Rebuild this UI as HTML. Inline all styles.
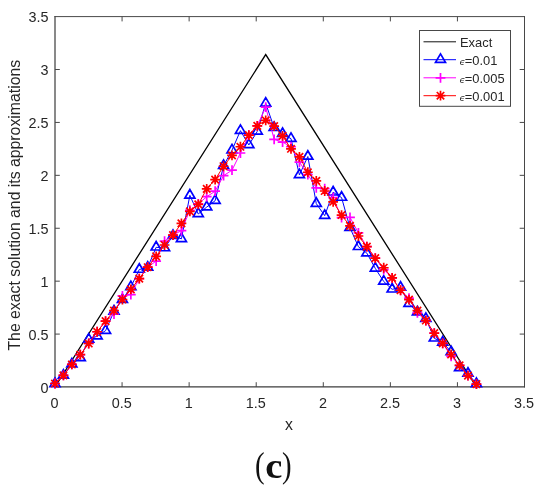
<!DOCTYPE html><html><head><meta charset="utf-8"><title>figure</title>
<style>html,body{margin:0;padding:0;background:#fff}body{width:550px;height:495px;overflow:hidden}svg{display:block}text{font-family:"Liberation Sans",Arial,Helvetica,sans-serif;fill:#262626}</style></head><body>
<svg width="550" height="495" viewBox="0 0 550 495">
<rect width="550" height="495" fill="#fff"/>
<path d="M55.0,16.10V387.40" stroke="#4a4a4a" stroke-width="1.3" fill="none"/>
<path d="M54.5,16.60H525.0" stroke="#484848" stroke-width="1" fill="none"/>
<path d="M524.5,16.10V387.40" stroke="#484848" stroke-width="1" fill="none"/>
<path d="M54.5,386.85H525.0" stroke="#3c3c3c" stroke-width="1.1" fill="none"/>
<path d="M122.07,387.0v-4.8M122.07,16.60v4.8M55.0,334.09h4.8M524.5,334.09h-4.8M189.14,387.0v-4.8M189.14,16.60v4.8M55.0,281.17h4.8M524.5,281.17h-4.8M256.21,387.0v-4.8M256.21,16.60v4.8M55.0,228.26h4.8M524.5,228.26h-4.8M323.29,387.0v-4.8M323.29,16.60v4.8M55.0,175.34h4.8M524.5,175.34h-4.8M390.36,387.0v-4.8M390.36,16.60v4.8M55.0,122.43h4.8M524.5,122.43h-4.8M457.43,387.0v-4.8M457.43,16.60v4.8M55.0,69.51h4.8M524.5,69.51h-4.8" stroke="#484848" stroke-width="1" fill="none"/>
<text x="54.60" y="407.8" font-size="14.4" text-anchor="middle">0</text>
<text x="48.4" y="392.80" font-size="14.4" text-anchor="end">0</text>
<text x="121.67" y="407.8" font-size="14.4" text-anchor="middle">0.5</text>
<text x="48.4" y="339.89" font-size="14.4" text-anchor="end">0.5</text>
<text x="188.74" y="407.8" font-size="14.4" text-anchor="middle">1</text>
<text x="48.4" y="286.97" font-size="14.4" text-anchor="end">1</text>
<text x="255.81" y="407.8" font-size="14.4" text-anchor="middle">1.5</text>
<text x="48.4" y="234.06" font-size="14.4" text-anchor="end">1.5</text>
<text x="322.89" y="407.8" font-size="14.4" text-anchor="middle">2</text>
<text x="48.4" y="181.14" font-size="14.4" text-anchor="end">2</text>
<text x="389.96" y="407.8" font-size="14.4" text-anchor="middle">2.5</text>
<text x="48.4" y="128.23" font-size="14.4" text-anchor="end">2.5</text>
<text x="457.03" y="407.8" font-size="14.4" text-anchor="middle">3</text>
<text x="48.4" y="75.31" font-size="14.4" text-anchor="end">3</text>
<text x="524.10" y="407.8" font-size="14.4" text-anchor="middle">3.5</text>
<text x="48.4" y="22.40" font-size="14.4" text-anchor="end">3.5</text>
<text x="288.9" y="429.9" font-size="15.8" text-anchor="middle">x</text>
<text transform="translate(19.6,205.2) rotate(-90)" font-size="15.8" text-anchor="middle">The exact solution and its approximations</text>
<polyline points="55.00,387.00 265.71,54.53 476.42,387.00" fill="none" stroke="#000" stroke-width="1.3"/>
<polyline points="55.00,383.83 63.43,375.36 71.86,364.25 80.29,358.00 88.71,339.38 97.14,336.20 105.57,330.70 114.00,311.33 122.43,299.69 130.86,286.99 139.28,269.53 147.71,267.41 156.14,247.31 164.57,248.05 173.00,235.67 181.43,238.84 189.86,195.34 198.28,213.97 206.71,207.09 215.14,200.74 223.57,165.82 232.00,150.16 240.43,130.68 248.85,144.97 257.28,131.42 265.71,103.38 274.14,127.72 282.57,133.75 291.00,138.73 299.42,174.92 307.85,156.51 316.28,203.60 324.71,215.66 333.14,192.28 341.57,197.57 350.00,227.73 358.42,246.78 366.85,253.13 375.28,268.37 383.71,281.49 392.14,289.32 400.57,287.52 408.99,303.71 417.42,312.18 425.85,318.63 434.28,338.32 442.71,342.34 451.14,351.86 459.57,367.95 467.99,373.56 476.42,383.83" fill="none" stroke="#0000ff" stroke-width="1"/>
<path d="M50.00,386.53L60.00,386.53L55.00,378.03ZM58.43,378.06L68.43,378.06L63.43,369.56ZM66.86,366.95L76.86,366.95L71.86,358.45ZM75.29,360.70L85.29,360.70L80.29,352.20ZM83.71,342.08L93.71,342.08L88.71,333.58ZM92.14,338.90L102.14,338.90L97.14,330.40ZM100.57,333.40L110.57,333.40L105.57,324.90ZM109.00,314.03L119.00,314.03L114.00,305.53ZM117.43,302.39L127.43,302.39L122.43,293.89ZM125.86,289.69L135.86,289.69L130.86,281.19ZM134.28,272.23L144.28,272.23L139.28,263.73ZM142.71,270.11L152.71,270.11L147.71,261.61ZM151.14,250.01L161.14,250.01L156.14,241.51ZM159.57,250.75L169.57,250.75L164.57,242.25ZM168.00,238.37L178.00,238.37L173.00,229.87ZM176.43,241.54L186.43,241.54L181.43,233.04ZM184.86,198.04L194.86,198.04L189.86,189.54ZM193.28,216.67L203.28,216.67L198.28,208.17ZM201.71,209.79L211.71,209.79L206.71,201.29ZM210.14,203.44L220.14,203.44L215.14,194.94ZM218.57,168.52L228.57,168.52L223.57,160.02ZM227.00,152.86L237.00,152.86L232.00,144.36ZM235.43,133.38L245.43,133.38L240.43,124.88ZM243.85,147.67L253.85,147.67L248.85,139.17ZM252.28,134.12L262.28,134.12L257.28,125.62ZM260.71,106.08L270.71,106.08L265.71,97.58ZM269.14,130.42L279.14,130.42L274.14,121.92ZM277.57,136.45L287.57,136.45L282.57,127.95ZM286.00,141.43L296.00,141.43L291.00,132.93ZM294.42,177.62L304.42,177.62L299.42,169.12ZM302.85,159.21L312.85,159.21L307.85,150.71ZM311.28,206.30L321.28,206.30L316.28,197.80ZM319.71,218.36L329.71,218.36L324.71,209.86ZM328.14,194.98L338.14,194.98L333.14,186.48ZM336.57,200.27L346.57,200.27L341.57,191.77ZM345.00,230.43L355.00,230.43L350.00,221.93ZM353.42,249.48L363.42,249.48L358.42,240.98ZM361.85,255.83L371.85,255.83L366.85,247.33ZM370.28,271.07L380.28,271.07L375.28,262.57ZM378.71,284.19L388.71,284.19L383.71,275.69ZM387.14,292.02L397.14,292.02L392.14,283.52ZM395.57,290.22L405.57,290.22L400.57,281.72ZM403.99,306.41L413.99,306.41L408.99,297.91ZM412.42,314.88L422.42,314.88L417.42,306.38ZM420.85,321.33L430.85,321.33L425.85,312.83ZM429.28,341.02L439.28,341.02L434.28,332.52ZM437.71,345.04L447.71,345.04L442.71,336.54ZM446.14,354.56L456.14,354.56L451.14,346.06ZM454.57,370.65L464.57,370.65L459.57,362.15ZM462.99,376.26L472.99,376.26L467.99,367.76ZM471.42,386.53L481.42,386.53L476.42,378.03Z" fill="none" stroke="#0000ff" stroke-width="1.7" stroke-linejoin="miter"/>
<polyline points="55.00,383.51 63.43,375.36 71.86,364.46 80.29,354.72 88.71,343.50 97.14,331.76 105.57,321.07 114.00,313.98 122.43,295.88 130.86,294.61 139.28,278.63 147.71,267.20 156.14,261.06 164.57,241.06 173.00,235.03 181.43,230.69 189.86,210.27 198.28,203.92 206.71,196.72 215.14,191.22 223.57,175.66 232.00,170.16 240.43,153.01 248.85,135.13 257.28,125.82 265.71,107.08 274.14,139.36 282.57,142.11 291.00,146.77 299.42,162.11 307.85,174.60 316.28,187.83 324.71,188.57 333.14,197.57 341.57,217.67 350.00,217.36 358.42,232.91 366.85,246.67 375.28,258.10 383.71,269.53 392.14,277.89 400.57,290.27 408.99,298.10 417.42,312.92 425.85,320.54 434.28,333.03 442.71,343.40 451.14,356.31 459.57,365.41 467.99,375.57 476.42,384.14" fill="none" stroke="#ff00ff" stroke-width="1"/>
<path d="M50.10,383.51H59.90M55.00,378.61V388.41M58.53,375.36H68.33M63.43,370.46V380.26M66.96,364.46H76.76M71.86,359.56V369.36M75.39,354.72H85.19M80.29,349.82V359.62M83.81,343.50H93.61M88.71,338.60V348.40M92.24,331.76H102.04M97.14,326.86V336.66M100.67,321.07H110.47M105.57,316.17V325.97M109.10,313.98H118.90M114.00,309.08V318.88M117.53,295.88H127.33M122.43,290.98V300.78M125.96,294.61H135.76M130.86,289.71V299.51M134.38,278.63H144.18M139.28,273.73V283.53M142.81,267.20H152.61M147.71,262.30V272.10M151.24,261.06H161.04M156.14,256.16V265.96M159.67,241.06H169.47M164.57,236.16V245.96M168.10,235.03H177.90M173.00,230.13V239.93M176.53,230.69H186.33M181.43,225.79V235.59M184.96,210.27H194.76M189.86,205.37V215.17M193.38,203.92H203.18M198.28,199.02V208.82M201.81,196.72H211.61M206.71,191.82V201.62M210.24,191.22H220.04M215.14,186.32V196.12M218.67,175.66H228.47M223.57,170.76V180.56M227.10,170.16H236.90M232.00,165.26V175.06M235.53,153.01H245.33M240.43,148.11V157.91M243.95,135.13H253.75M248.85,130.23V140.03M252.38,125.82H262.18M257.28,120.92V130.72M260.81,107.08H270.61M265.71,102.18V111.98M269.24,139.36H279.04M274.14,134.46V144.26M277.67,142.11H287.47M282.57,137.21V147.01M286.10,146.77H295.90M291.00,141.87V151.67M294.52,162.11H304.32M299.42,157.21V167.01M302.95,174.60H312.75M307.85,169.70V179.50M311.38,187.83H321.18M316.28,182.93V192.73M319.81,188.57H329.61M324.71,183.67V193.47M328.24,197.57H338.04M333.14,192.67V202.47M336.67,217.67H346.47M341.57,212.77V222.57M345.10,217.36H354.90M350.00,212.46V222.26M353.52,232.91H363.32M358.42,228.01V237.81M361.95,246.67H371.75M366.85,241.77V251.57M370.38,258.10H380.18M375.28,253.20V263.00M378.81,269.53H388.61M383.71,264.63V274.43M387.24,277.89H397.04M392.14,272.99V282.79M395.67,290.27H405.47M400.57,285.37V295.17M404.09,298.10H413.89M408.99,293.20V303.00M412.52,312.92H422.32M417.42,308.02V317.82M420.95,320.54H430.75M425.85,315.64V325.44M429.38,333.03H439.18M434.28,328.13V337.93M437.81,343.40H447.61M442.71,338.50V348.30M446.24,356.31H456.04M451.14,351.41V361.21M454.67,365.41H464.47M459.57,360.51V370.31M463.09,375.57H472.89M467.99,370.67V380.47M471.52,384.14H481.32M476.42,379.24V389.04" fill="none" stroke="#ff00ff" stroke-width="1.7"/>
<polyline points="55.00,383.51 63.43,375.36 71.86,364.46 80.29,354.72 88.71,343.50 97.14,331.76 105.57,321.07 114.00,310.70 122.43,299.48 130.86,289.43 139.28,278.63 147.71,267.20 156.14,256.30 164.57,244.98 173.00,235.03 181.43,223.39 189.86,211.43 198.28,204.45 206.71,188.89 215.14,179.58 223.57,166.24 232.00,155.45 240.43,146.77 248.85,135.13 257.28,125.82 265.71,120.31 274.14,126.13 282.57,135.87 291.00,148.78 299.42,156.82 307.85,172.27 316.28,180.85 324.71,191.01 333.14,201.80 341.57,215.03 350.00,225.93 358.42,235.98 366.85,246.67 375.28,258.10 383.71,267.73 392.14,277.89 400.57,290.27 408.99,299.59 417.42,310.70 425.85,320.54 434.28,333.03 442.71,343.40 451.14,354.51 459.57,365.41 467.99,375.57 476.42,384.14" fill="none" stroke="#ff0000" stroke-width="1"/>
<path d="M50.10,383.51H59.90M55.00,378.61V388.41M51.28,379.78L58.72,387.23M51.28,387.23L58.72,379.78M58.53,375.36H68.33M63.43,370.46V380.26M59.70,371.63L67.15,379.08M59.70,379.08L67.15,371.63M66.96,364.46H76.76M71.86,359.56V369.36M68.13,360.73L75.58,368.18M68.13,368.18L75.58,360.73M75.39,354.72H85.19M80.29,349.82V359.62M76.56,351.00L84.01,358.45M76.56,358.45L84.01,351.00M83.81,343.50H93.61M88.71,338.60V348.40M84.99,339.78L92.44,347.23M84.99,347.23L92.44,339.78M92.24,331.76H102.04M97.14,326.86V336.66M93.42,328.03L100.87,335.48M93.42,335.48L100.87,328.03M100.67,321.07H110.47M105.57,316.17V325.97M101.85,317.34L109.29,324.79M101.85,324.79L109.29,317.34M109.10,310.70H118.90M114.00,305.80V315.60M110.28,306.97L117.72,314.42M110.28,314.42L117.72,306.97M117.53,299.48H127.33M122.43,294.58V304.38M118.70,295.76L126.15,303.20M118.70,303.20L126.15,295.76M125.96,289.43H135.76M130.86,284.53V294.33M127.13,285.70L134.58,293.15M127.13,293.15L134.58,285.70M134.38,278.63H144.18M139.28,273.73V283.53M135.56,274.91L143.01,282.36M135.56,282.36L143.01,274.91M142.81,267.20H152.61M147.71,262.30V272.10M143.99,263.48L151.44,270.93M143.99,270.93L151.44,263.48M151.24,256.30H161.04M156.14,251.40V261.20M152.42,252.58L159.87,260.03M152.42,260.03L159.87,252.58M159.67,244.98H169.47M164.57,240.08V249.88M160.85,241.25L168.29,248.70M160.85,248.70L168.29,241.25M168.10,235.03H177.90M173.00,230.13V239.93M169.27,231.31L176.72,238.75M169.27,238.75L176.72,231.31M176.53,223.39H186.33M181.43,218.49V228.29M177.70,219.67L185.15,227.11M177.70,227.11L185.15,219.67M184.96,211.43H194.76M189.86,206.53V216.33M186.13,207.71L193.58,215.15M186.13,215.15L193.58,207.71M193.38,204.45H203.18M198.28,199.55V209.35M194.56,200.72L202.01,208.17M194.56,208.17L202.01,200.72M201.81,188.89H211.61M206.71,183.99V193.79M202.99,185.16L210.44,192.61M202.99,192.61L210.44,185.16M210.24,179.58H220.04M215.14,174.68V184.48M211.42,175.85L218.86,183.30M211.42,183.30L218.86,175.85M218.67,166.24H228.47M223.57,161.34V171.14M219.84,162.52L227.29,169.97M219.84,169.97L227.29,162.52M227.10,155.45H236.90M232.00,150.55V160.35M228.27,151.72L235.72,159.17M228.27,159.17L235.72,151.72M235.53,146.77H245.33M240.43,141.87V151.67M236.70,143.05L244.15,150.49M236.70,150.49L244.15,143.05M243.95,135.13H253.75M248.85,130.23V140.03M245.13,131.40L252.58,138.85M245.13,138.85L252.58,131.40M252.38,125.82H262.18M257.28,120.92V130.72M253.56,122.09L261.01,129.54M253.56,129.54L261.01,122.09M260.81,120.31H270.61M265.71,115.41V125.21M261.99,116.59L269.44,124.04M261.99,124.04L269.44,116.59M269.24,126.13H279.04M274.14,121.23V131.03M270.42,122.41L277.86,129.86M270.42,129.86L277.86,122.41M277.67,135.87H287.47M282.57,130.97V140.77M278.84,132.14L286.29,139.59M278.84,139.59L286.29,132.14M286.10,148.78H295.90M291.00,143.88V153.68M287.27,145.06L294.72,152.50M287.27,152.50L294.72,145.06M294.52,156.82H304.32M299.42,151.92V161.72M295.70,153.10L303.15,160.55M295.70,160.55L303.15,153.10M302.95,172.27H312.75M307.85,167.37V177.17M304.13,168.55L311.58,176.00M304.13,176.00L311.58,168.55M311.38,180.85H321.18M316.28,175.95V185.75M312.56,177.12L320.01,184.57M312.56,184.57L320.01,177.12M319.81,191.01H329.61M324.71,186.11V195.91M320.99,187.28L328.43,194.73M320.99,194.73L328.43,187.28M328.24,201.80H338.04M333.14,196.90V206.70M329.41,198.08L336.86,205.52M329.41,205.52L336.86,198.08M336.67,215.03H346.47M341.57,210.13V219.93M337.84,211.30L345.29,218.75M337.84,218.75L345.29,211.30M345.10,225.93H354.90M350.00,221.03V230.83M346.27,222.20L353.72,229.65M346.27,229.65L353.72,222.20M353.52,235.98H363.32M358.42,231.08V240.88M354.70,232.26L362.15,239.71M354.70,239.71L362.15,232.26M361.95,246.67H371.75M366.85,241.77V251.57M363.13,242.95L370.58,250.40M363.13,250.40L370.58,242.95M370.38,258.10H380.18M375.28,253.20V263.00M371.56,254.38L379.00,261.82M371.56,261.82L379.00,254.38M378.81,267.73H388.61M383.71,262.83V272.63M379.99,264.01L387.43,271.46M379.99,271.46L387.43,264.01M387.24,277.89H397.04M392.14,272.99V282.79M388.41,274.17L395.86,281.61M388.41,281.61L395.86,274.17M395.67,290.27H405.47M400.57,285.37V295.17M396.84,286.55L404.29,294.00M396.84,294.00L404.29,286.55M404.09,299.59H413.89M408.99,294.69V304.49M405.27,295.86L412.72,303.31M405.27,303.31L412.72,295.86M412.52,310.70H422.32M417.42,305.80V315.60M413.70,306.97L421.15,314.42M413.70,314.42L421.15,306.97M420.95,320.54H430.75M425.85,315.64V325.44M422.13,316.82L429.58,324.26M422.13,324.26L429.58,316.82M429.38,333.03H439.18M434.28,328.13V337.93M430.56,329.30L438.00,336.75M430.56,336.75L438.00,329.30M437.81,343.40H447.61M442.71,338.50V348.30M438.98,339.67L446.43,347.12M438.98,347.12L446.43,339.67M446.24,354.51H456.04M451.14,349.61V359.41M447.41,350.79L454.86,358.23M447.41,358.23L454.86,350.79M454.67,365.41H464.47M459.57,360.51V370.31M455.84,361.69L463.29,369.13M455.84,369.13L463.29,361.69M463.09,375.57H472.89M467.99,370.67V380.47M464.27,371.85L471.72,379.29M464.27,379.29L471.72,371.85M471.52,384.14H481.32M476.42,379.24V389.04M472.70,380.42L480.15,387.87M472.70,387.87L480.15,380.42" fill="none" stroke="#ff0000" stroke-width="1.7"/>
<rect x="419.5" y="30.5" width="91" height="75.8" fill="#fff" stroke="#484848" stroke-width="1"/>
<path d="M423.5,41.8H456" stroke="#111" stroke-width="1" fill="none"/>
<path d="M423.5,59.7H456" stroke="#0000ff" stroke-width="1" fill="none"/>
<path d="M423.5,77.8H456" stroke="#ff00ff" stroke-width="1" fill="none"/>
<path d="M423.5,95.7H456" stroke="#ff0000" stroke-width="1" fill="none"/>
<path d="M435.50,62.40L445.50,62.40L440.50,53.90Z" fill="none" stroke="#0000ff" stroke-width="1.7"/>
<path d="M435.60,77.80H445.40M440.50,72.90V82.70" fill="none" stroke="#ff00ff" stroke-width="1.7"/>
<path d="M435.60,95.70H445.40M440.50,90.80V100.60M436.78,91.98L444.22,99.42M436.78,99.42L444.22,91.98" fill="none" stroke="#ff0000" stroke-width="1.7"/>
<text x="460" y="46.699999999999996" font-size="12.9">Exact</text>
<text x="459.6" y="64.60000000000001" font-size="12.9"><tspan font-family="'DejaVu Sans',sans-serif" font-style="italic" font-size="9.4" dy="0.7">ϵ</tspan><tspan dy="-0.7" dx="-0.6">=0.01</tspan></text>
<text x="459.6" y="82.7" font-size="12.9"><tspan font-family="'DejaVu Sans',sans-serif" font-style="italic" font-size="9.4" dy="0.7">ϵ</tspan><tspan dy="-0.7" dx="-0.6">=0.005</tspan></text>
<text x="459.6" y="100.60000000000001" font-size="12.9"><tspan font-family="'DejaVu Sans',sans-serif" font-style="italic" font-size="9.4" dy="0.7">ϵ</tspan><tspan dy="-0.7" dx="-0.6">=0.001</tspan></text>
<g font-size="36" style="font-family:'Liberation Serif','DejaVu Serif',serif" fill="#111">
<text transform="translate(255.0,477.4) scale(0.8,0.99)" style="fill:#111;font-family:'Liberation Serif','DejaVu Serif',serif">(</text>
<text transform="translate(265.2,478.3) scale(1.07,1.02)" font-weight="bold" style="fill:#111;font-family:'Liberation Serif','DejaVu Serif',serif">c</text>
<text transform="translate(281.9,477.4) scale(0.8,0.99)" style="fill:#111;font-family:'Liberation Serif','DejaVu Serif',serif">)</text>
</g>
</svg></body></html>
